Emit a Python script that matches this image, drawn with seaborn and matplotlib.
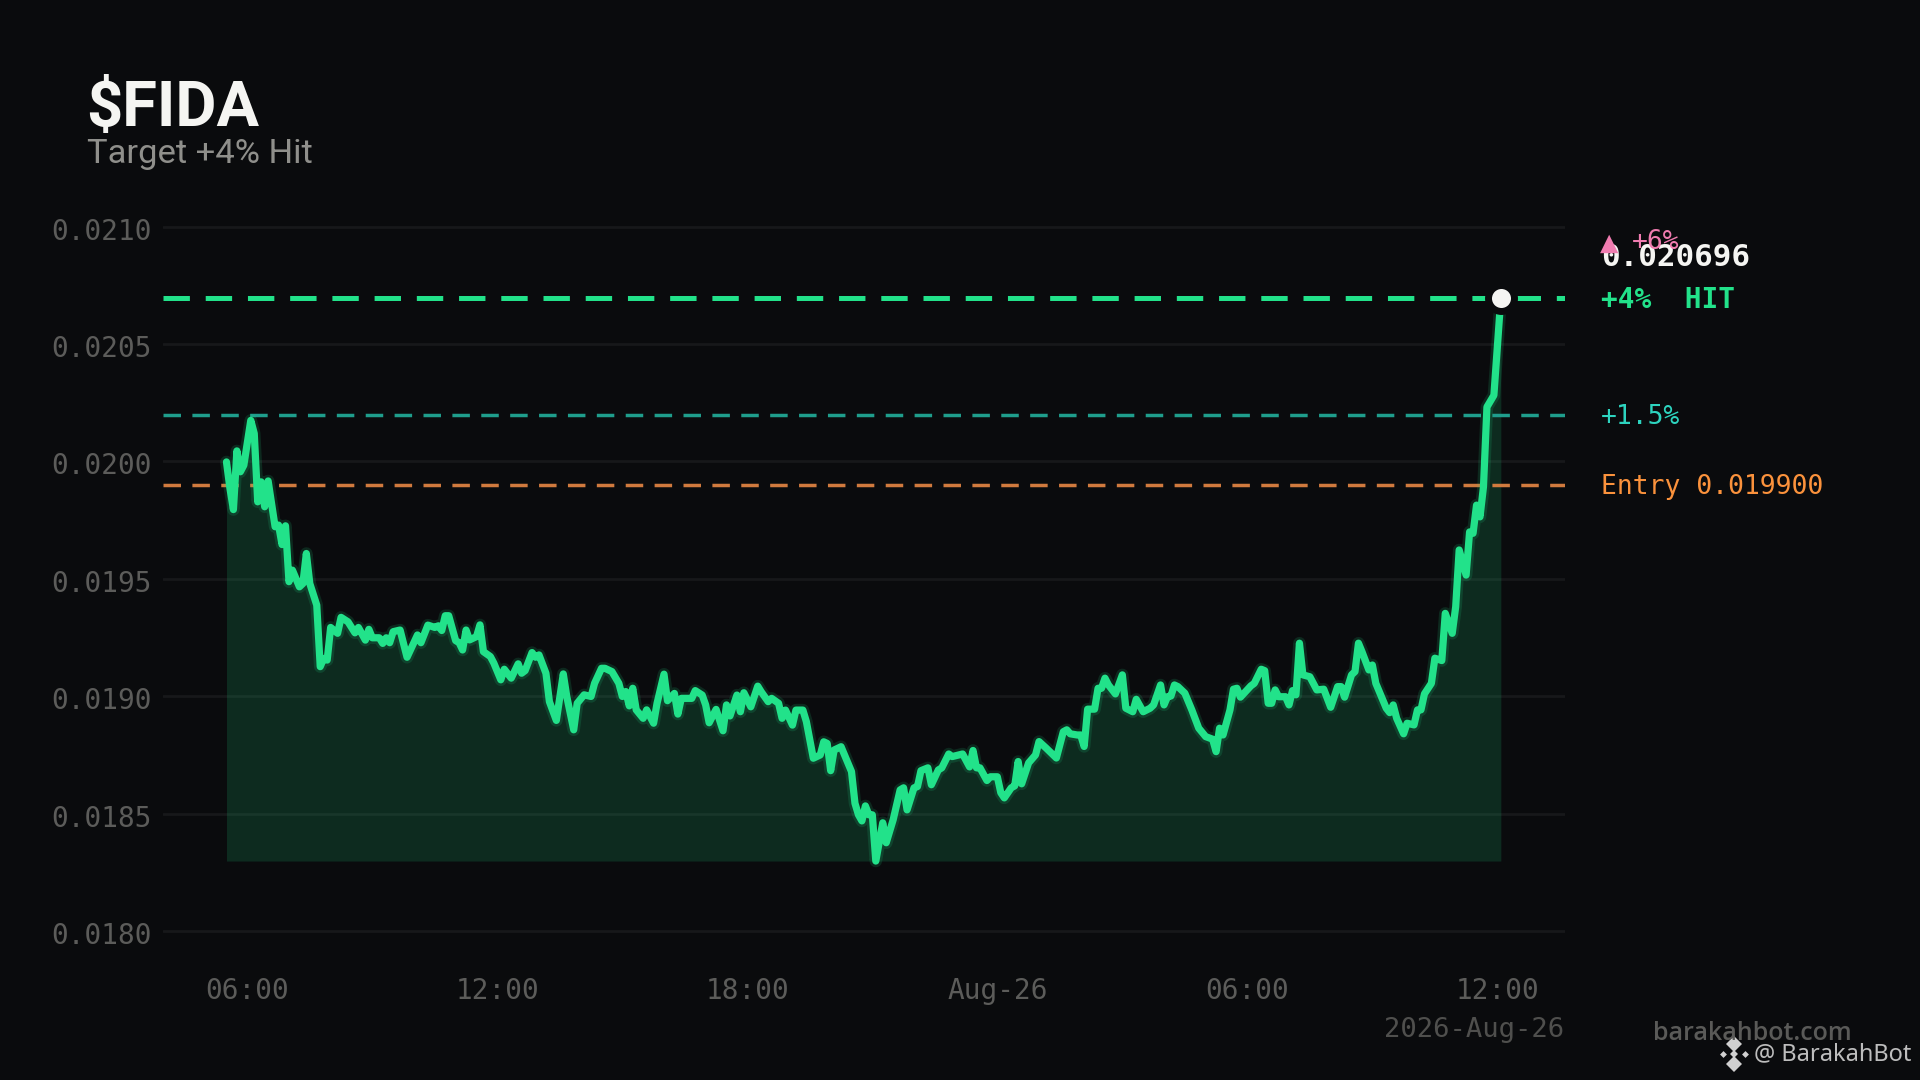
import matplotlib
matplotlib.use("Agg")
import matplotlib.pyplot as plt
from matplotlib.lines import Line2D
from matplotlib.transforms import ScaledTranslation, blended_transform_factory
import pandas as pd
import seaborn as sns

# minutes since the first candle (25 Aug 05:30) and the price
minutes = [
    0, 5, 10, 15, 20, 25, 35, 40, 45, 50, 55, 60, 70, 75, 80, 85, 90, 95, 105, 110,
    115, 120, 130, 135, 140, 145, 150, 160, 165, 175, 185, 190, 200, 205, 210, 220,
    225, 230, 235, 240, 250, 260, 275, 280, 290, 300, 305,
    310, 315, 320, 330, 335, 340, 345, 350, 360, 365, 370, 380, 385, 395, 400, 410,
    420, 425, 430, 440, 445, 450, 460, 465, 475, 485, 490, 500, 505, 515, 525, 530,
    540, 545, 555, 565, 570, 575, 580, 585, 590, 600, 605,
    615, 620, 630, 635, 645, 650, 655, 670, 675, 685, 690, 695, 705, 715, 720, 725,
    735, 740, 745, 755, 765, 770, 780, 785, 795, 800, 805, 815, 820, 830, 835, 845,
    855, 860, 865, 870, 875, 885, 895, 900,
    905, 910, 915, 920, 925, 930, 935, 945, 950, 960, 970, 975, 980, 990, 995, 1000,
    1010, 1015, 1025, 1030, 1040, 1045, 1060, 1070, 1075, 1080, 1085, 1095, 1100,
    1110, 1115, 1120, 1130, 1135, 1140, 1145, 1155, 1165, 1170, 1180, 1195, 1205,
    1210, 1215,
    1225, 1230, 1235, 1240, 1250, 1255, 1260, 1265, 1270, 1280, 1290, 1295, 1305,
    1310, 1320, 1330, 1335, 1345, 1350, 1355, 1360, 1365, 1370, 1380, 1390, 1400,
    1410, 1420, 1425, 1430, 1435, 1445, 1450, 1455, 1460, 1475, 1480, 1490, 1495,
    1500, 1505, 1510,
    1515, 1525, 1530, 1535, 1540, 1545, 1550, 1560, 1570, 1580, 1590, 1600, 1605,
    1610, 1620, 1625, 1630, 1635, 1645, 1650, 1655, 1670, 1675, 1680, 1685, 1695,
    1700, 1710, 1715, 1720, 1725, 1735, 1740, 1750, 1755, 1765, 1770, 1775, 1785,
    1790, 1795, 1800, 1805, 1810, 1815, 1825, 1835,
]
prices = [
    0.019998, 0.019885, 0.019795, 0.020045, 0.019956, 0.019984, 0.020175, 0.020119,
    0.019828, 0.019913, 0.019807, 0.019917, 0.019722, 0.019729, 0.019646, 0.019726,
    0.019488, 0.019537, 0.019466, 0.019480, 0.019608, 0.019480, 0.019388, 0.019126,
    0.019161, 0.019154, 0.019293, 0.019268, 0.019336, 0.019317, 0.019270, 0.019293,
    0.019239, 0.019285, 0.019249, 0.019249, 0.019225, 0.019249, 0.019228, 0.019275,
    0.019282, 0.019166, 0.019261, 0.019228, 0.019303, 0.019293, 0.019300,
    0.019280, 0.019343, 0.019343, 0.019237, 0.019228, 0.019197, 0.019282, 0.019240,
    0.019254, 0.019304, 0.019190, 0.019169, 0.019141, 0.019070, 0.019115, 0.019077,
    0.019138, 0.019098, 0.019109, 0.019186, 0.019166, 0.019176, 0.019098, 0.018977,
    0.018897, 0.019095, 0.018999, 0.018857, 0.018970, 0.019006, 0.018999, 0.019055,
    0.019119, 0.019119, 0.019105, 0.019055, 0.018999, 0.019020, 0.018959, 0.019034,
    0.018942, 0.018906, 0.018942,
    0.018885, 0.018970, 0.019094, 0.018981, 0.019012, 0.018924, 0.018991, 0.018991,
    0.019024, 0.019005, 0.018963, 0.018887, 0.018944, 0.018853, 0.018963, 0.018916,
    0.019005, 0.018934, 0.019015, 0.018955, 0.019043, 0.019019, 0.018977, 0.018991,
    0.018970, 0.018906, 0.018941, 0.018877, 0.018941, 0.018941, 0.018892, 0.018736,
    0.018750, 0.018806, 0.018799, 0.018683, 0.018771, 0.018785, 0.018714, 0.018679,
    0.018544, 0.018495, 0.018469, 0.018533, 0.018495, 0.018495, 0.018298, 0.018461,
    0.018376, 0.018474, 0.018601, 0.018610, 0.018516, 0.018610, 0.018615, 0.018683,
    0.018695, 0.018623, 0.018686, 0.018695, 0.018754, 0.018743, 0.018754, 0.018699,
    0.018769, 0.018695, 0.018695, 0.018641, 0.018657, 0.018657, 0.018589, 0.018567,
    0.018610, 0.018618, 0.018722, 0.018627, 0.018716, 0.018750, 0.018807, 0.018780,
    0.018737, 0.018849, 0.018857, 0.018840,
    0.018835, 0.018835, 0.018786, 0.018945, 0.018945, 0.019034, 0.019034, 0.019077,
    0.019048, 0.019010, 0.019091, 0.018949, 0.018934, 0.018987, 0.018934, 0.018949,
    0.018963, 0.019048, 0.018963, 0.018998, 0.019001, 0.019048, 0.019041, 0.019013,
    0.018942, 0.018864, 0.018828, 0.018817, 0.018764, 0.018864, 0.018835, 0.018942,
    0.019030, 0.019034, 0.018996, 0.019044, 0.019055, 0.019115, 0.019109, 0.018970,
    0.018970, 0.019027,
    0.018998, 0.018998, 0.018963, 0.019024, 0.019006, 0.019226, 0.019091, 0.019083,
    0.019027, 0.019030, 0.018953, 0.019041, 0.019041, 0.018996, 0.019091, 0.019105,
    0.019226, 0.019190, 0.019112, 0.019133, 0.019055, 0.018949, 0.018930, 0.018963,
    0.018906, 0.018840, 0.018885, 0.018878, 0.018942, 0.018942, 0.019010, 0.019055,
    0.019162, 0.019152, 0.019353, 0.019268, 0.019381, 0.019623, 0.019516, 0.019700,
    0.019694, 0.019814, 0.019764, 0.019892, 0.020232, 0.020282, 0.020696,
]

y_ticks = [0.0180, 0.0185, 0.0190, 0.0195, 0.0200, 0.0205, 0.0210]
x_ticks = ["2026-08-25 06:00", "2026-08-25 12:00", "2026-08-25 18:00",
           "2026-08-26 00:00", "2026-08-26 06:00", "2026-08-26 12:00"]
x_labels = ["06:00", "12:00", "18:00", "Aug-26", "06:00", "12:00"]

entry = 0.0199
level_15 = 0.0201985
level_4 = 0.020696

BG = "#0a0b0d"
GREEN = "#22e28a"
W, H = 1920, 1080

sns.set_theme(style="dark")
plt.rcParams["lines.scale_dashes"] = False

start = pd.Timestamp("2026-08-25 05:30")
df = pd.DataFrame({"time": start + pd.to_timedelta(minutes, unit="m"), "price": prices})

fig = plt.figure(figsize=(19.2, 10.8), dpi=100, facecolor=BG)
ax = fig.add_axes([163 / W, 1 - 954.5 / H, (1565 - 163) / W, (954.5 - 203.2) / H], facecolor=BG)

ax.grid(axis="y", color="#17181a", linewidth=2)
ax.grid(axis="x", visible=False)

ax.fill_between(df["time"], df["price"], df["price"].min(), color=GREEN, alpha=0.15, linewidth=0, zorder=2)

ax.axhline(entry, color="#d07a3e", linewidth=2.5, linestyle=(0, (12.6, 8.2)), zorder=3)
ax.axhline(level_15, color="#1f9e8c", linewidth=2.5, linestyle=(0, (12.6, 8.2)), zorder=3)
ax.axhline(level_4, color=GREEN, linewidth=3.6, linestyle=(0, (19, 11.4)), zorder=3)

# soft glow then the line itself
sns.lineplot(data=df, x="time", y="price", color=GREEN, linewidth=9, alpha=0.14, estimator=None,
             sort=False, ax=ax, zorder=4)
sns.lineplot(data=df, x="time", y="price", color=GREEN, linewidth=5.2, estimator=None,
             sort=False, ax=ax, zorder=5)
for ln in ax.get_lines()[-2:]:
    ln.set_solid_joinstyle("round")
    ln.set_solid_capstyle("round")

sns.scatterplot(data=df.tail(1), x="time", y="price", s=18.7 ** 2, color="#f5f5f2", edgecolor=BG,
                linewidth=5, ax=ax, zorder=6, clip_on=False)

ax.set_xlim(start - pd.Timedelta(minutes=91.4), start + pd.Timedelta(minutes=1927.4))
ax.set_ylim(0.0179, 0.0211)
ax.set_yticks(y_ticks)
ax.set_yticklabels([f"{v:.4f}" for v in y_ticks], family="DejaVu Sans Mono", fontsize=20, color="#5c5c5a")
ax.set_xticks(pd.to_datetime(x_ticks))
ax.set_xticklabels(x_labels, family="DejaVu Sans Mono", fontsize=20, color="#5c5c5a")
ax.tick_params(axis="y", length=0, pad=8)
ax.tick_params(axis="x", length=0, pad=16)
ax.set_xlabel("")
ax.set_ylabel("")
sns.despine(ax=ax, left=True, bottom=True)
for lab in ax.get_yticklabels():
    lab.set_transform(lab.get_transform() + ScaledTranslation(0, -2 / 100, fig.dpi_scale_trans))

# right hand level labels, nudged down a little from the data y
label_trans = blended_transform_factory(fig.transFigure, ax.transData) + ScaledTranslation(0, -2 / 100, fig.dpi_scale_trans)
mono = "DejaVu Sans Mono"
lx = 1601 / W
ax.text(lx, level_4, "+4%  HIT", transform=label_trans, family=mono, fontsize=20, fontweight="bold",
        color=GREEN, va="center", clip_on=False)
ax.text(lx, level_15, "+1.5%", transform=label_trans, family=mono, fontsize=19, color="#2dd4bf",
        va="center", clip_on=False)
ax.text(lx, entry, "Entry 0.019900", transform=label_trans, family=mono, fontsize=19, color="#fb923c",
        va="center", clip_on=False)

fig.text(lx, 1 - 258 / H, "0.020696", family=mono, fontsize=22.3, fontweight="bold", color="#f5f5f2",
         va="center")
fig.text(1600 / W, 1 - 243 / H, "▲", family=mono, fontsize=22, color="#f07cb0", va="center")
fig.text(1632 / W, 1 - 242 / H, "+6%", family=mono, fontsize=19, color="#f07cb0", va="center")

fig.text(86 / W, 1 - 126 / H, "$FIDA", family="Roboto", fontweight="bold", fontsize=45.5,
         color="#f5f5f2", va="baseline")
fig.text(87 / W, 1 - 163 / H, "Target +4% Hit", family="Roboto", fontsize=24.8, color="#8f8f8b", va="baseline")

fig.text(1564 / W, 1 - 1030 / H, "2026-Aug-26", family=mono, fontsize=19.6, color="#4f4f4d", ha="right", va="center")
fig.text(1852 / W, 1 - 1034 / H, "barakahbot.com", family="Open Sans", fontweight="semibold", fontsize=18,
         color="#5a5a58", ha="right", va="center")
fig.text(1911 / W, 1 - 1054 / H, "@ BarakahBot", family="Noto Sans", fontsize=17, color="#bdbdbd",
         ha="right", va="center")

# small logo next to the handle
for dx, dy, ms in [(0, 0, 4), (0, -10, 8.5), (0, 10, 8.5), (-11, 0, 3.5), (11, 0, 3.5)]:
    fig.add_artist(Line2D([(1734 + dx) / W], [1 - (1054 + dy) / H], transform=fig.transFigure, marker="D",
                          markersize=ms, color="#d0d0d0", markeredgewidth=0, linestyle="none"))

fig.savefig("out.png", dpi=100, facecolor=BG)
plt.close(fig)
